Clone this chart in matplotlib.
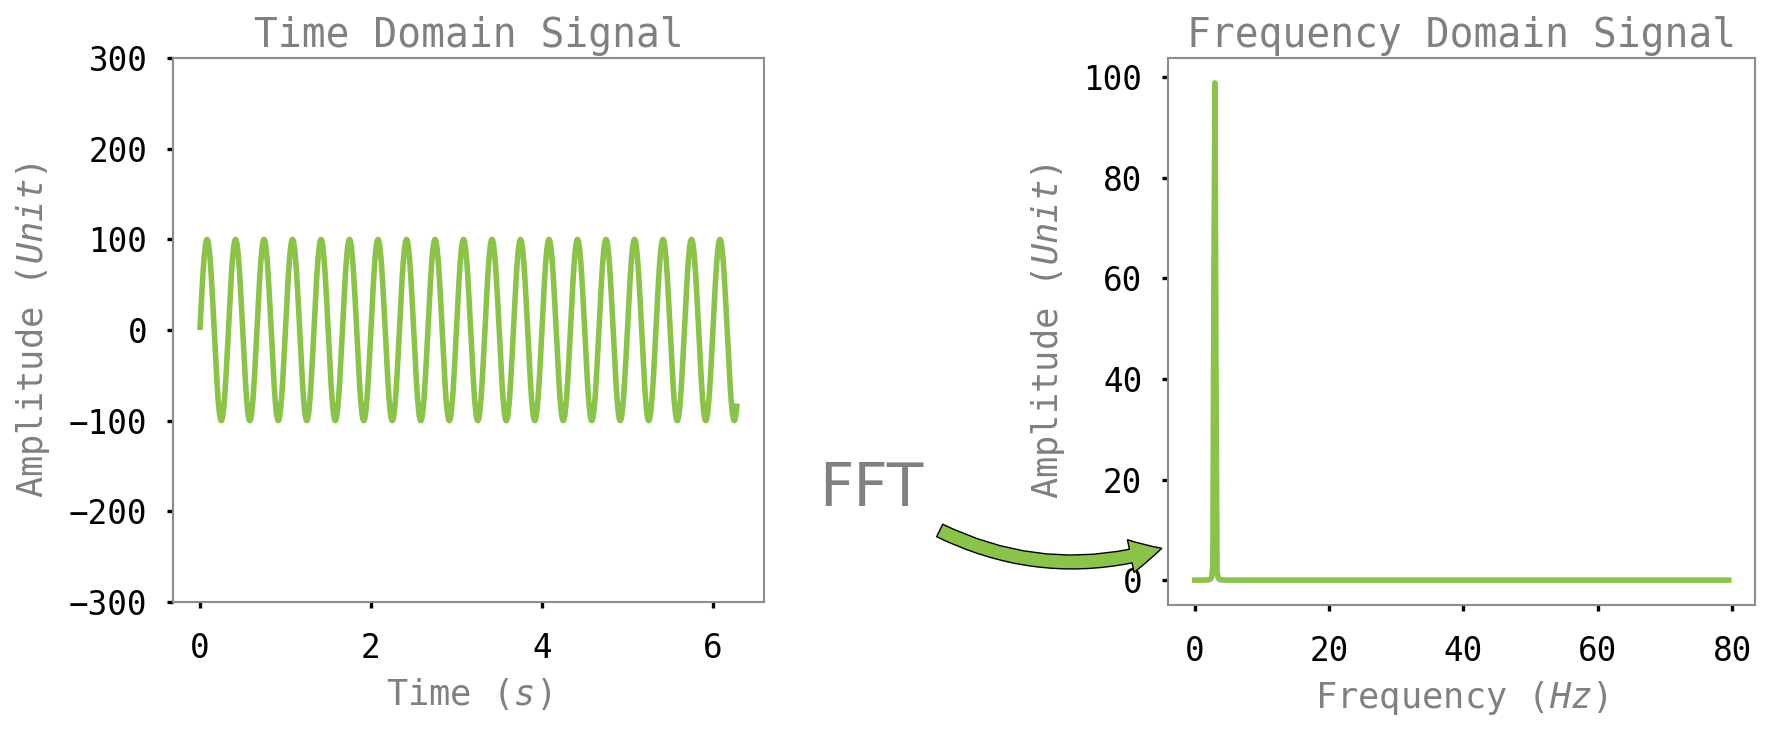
import numpy as np
import matplotlib.pyplot as plt
from matplotlib.patches import FancyArrowPatch

# signal parameters
amplitude = 100          # peak of the sine (Unit)
frequency = 3            # Hz, 19 periods over 2*pi seconds
duration = 2 * np.pi     # s
n_samples = 1000         # gives a Nyquist limit of ~79.5 Hz

titles = ["Time Domain Signal", "Frequency Domain Signal"]
xlabels = ["Time ($s$)", "Frequency ($Hz$)"]
ylabel = "Amplitude ($Unit$)"
time_yticks = [-300, -200, -100, 0, 100, 200, 300]

green = "#8bc34a"
gray = "#808080"

plt.rcParams['font.family'] = 'DejaVu Sans Mono'
plt.rcParams['mathtext.fontset'] = 'custom'
plt.rcParams['mathtext.it'] = 'DejaVu Sans Mono:italic'
plt.rcParams['mathtext.rm'] = 'DejaVu Sans Mono'

t = np.linspace(0, duration, n_samples)
signal = amplitude * np.sin(2 * np.pi * frequency * t)

# windowed spectrum, amplitude corrected
win = np.hanning(n_samples)
spectrum = np.abs(np.fft.rfft(signal * win)) * 2 / win.sum()
freqs = np.fft.rfftfreq(n_samples, t[1] - t[0])

fig = plt.figure(figsize=(17.75, 7.3), dpi=100)
ax1 = fig.add_axes([0.0975, 0.1753, 0.3329, 0.7452])
ax2 = fig.add_axes([0.658, 0.1712, 0.331, 0.7493])

ax1.plot(t, signal, color=green, lw=4, solid_capstyle='butt')
ax1.set_ylim(-300, 300)
ax1.set_yticks(time_yticks)

ax2.plot(freqs, spectrum, color=green, lw=4)

for ax, title, xl in zip([ax1, ax2], titles, xlabels):
    ax.set_title(title, color=gray, fontsize=28.5, pad=8)
    ax.set_xlabel(xl, color=gray, fontsize=25.5, labelpad=8)
    ax.set_ylabel(ylabel, color=gray, fontsize=25.5, labelpad=12)
    ax.tick_params(labelsize=23.5, length=4.5, width=2.4, color='black',
                   top=False, right=False)
    ax.tick_params(axis='x', pad=17)
    ax.tick_params(axis='y', pad=14)
    for s in ax.spines.values():
        s.set_color('#8c8c8c')
        s.set_linewidth(1.5)

fig.text(0.491, 0.330, "FFT", fontsize=43, color=gray, family='DejaVu Sans',
         ha='center', va='center')

arrow = FancyArrowPatch((0.528, 0.275), (0.656, 0.250), transform=fig.transFigure,
                        connectionstyle="arc3,rad=0.2",
                        arrowstyle="simple,head_length=23,head_width=24,tail_width=10",
                        mutation_scale=1, facecolor=green, edgecolor='black', lw=1)
fig.patches.append(arrow)

fig.savefig("out.png", dpi=100)
